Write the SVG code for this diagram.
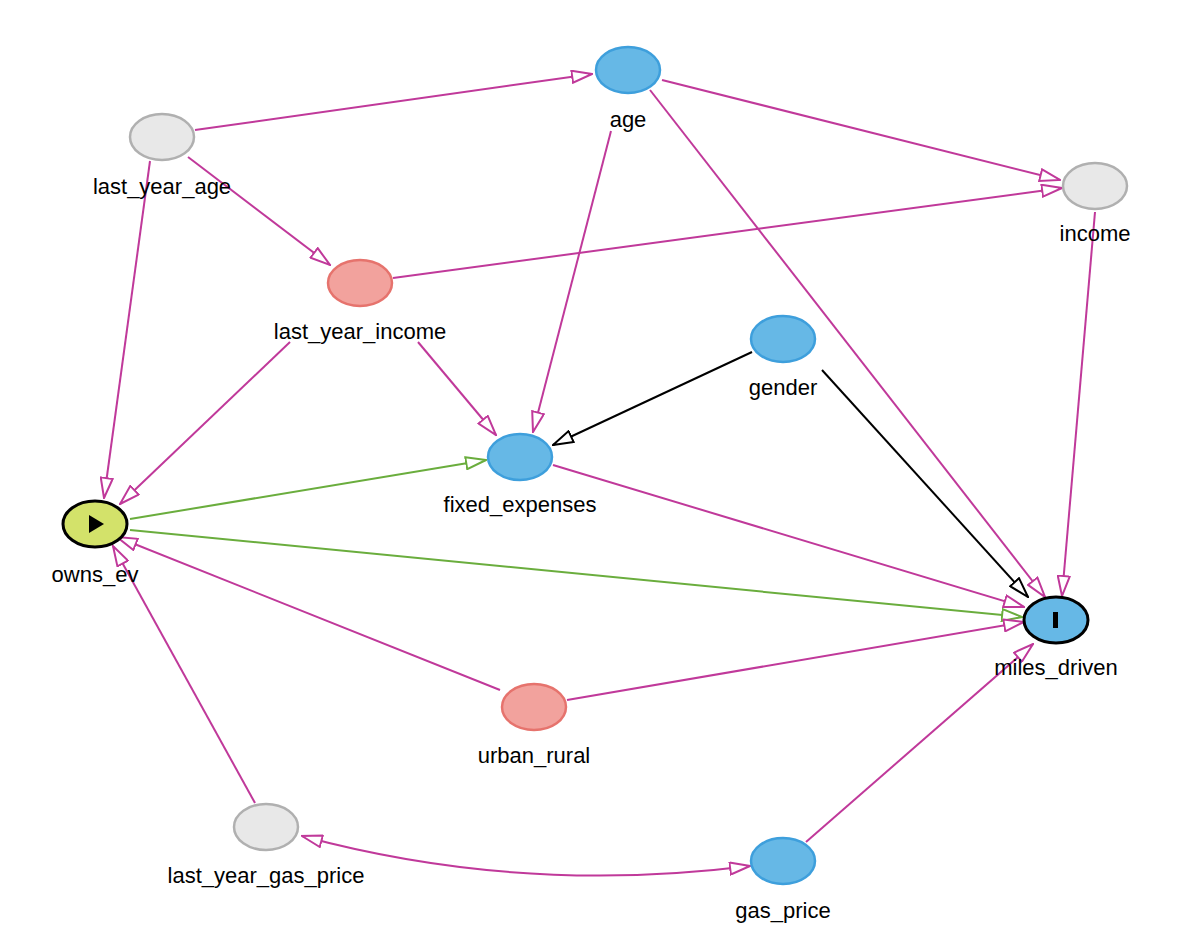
<svg xmlns="http://www.w3.org/2000/svg" width="1184" height="952" viewBox="0 0 1184 952">
<defs>
<style>
.e{fill:none;stroke-width:2}
.p{stroke:#c0399a}.g{stroke:#6aad3d}.k{stroke:#000}
text{font-family:"Liberation Sans",Arial,sans-serif;font-size:22px;text-anchor:middle;fill:#000}
.gr{fill:#e8e8e8;stroke:#b0b0b0;stroke-width:2.5}
.bl{fill:#66b8e6;stroke:#3e9fdc;stroke-width:2.5}
.rd{fill:#f2a29d;stroke:#e6736d;stroke-width:2.5}
</style>
<marker id="mp" viewBox="0 0 22 14" refX="21" refY="7" markerWidth="22" markerHeight="14" markerUnits="userSpaceOnUse" orient="auto-start-reverse"><path d="M1,1 L21,7 L1,13 Z" fill="#fff" stroke="#c0399a" stroke-width="2"/></marker>
<marker id="mg" viewBox="0 0 22 14" refX="21" refY="7" markerWidth="22" markerHeight="14" markerUnits="userSpaceOnUse" orient="auto"><path d="M1,1 L21,7 L1,13 Z" fill="#fff" stroke="#6aad3d" stroke-width="2"/></marker>
<marker id="mk" viewBox="0 0 22 14" refX="21" refY="7" markerWidth="22" markerHeight="14" markerUnits="userSpaceOnUse" orient="auto"><path d="M1,1 L21,7 L1,13 Z" fill="#fff" stroke="#000" stroke-width="2"/></marker>
</defs>
<rect width="1184" height="952" fill="#fff"/>
<g id="connectors">
<line class="e p" x1="195" y1="130" x2="592" y2="74" marker-end="url(#mp)"/>
<line class="e p" x1="662" y1="80" x2="1060" y2="180" marker-end="url(#mp)"/>
<line class="e p" x1="188" y1="157" x2="330" y2="265" marker-end="url(#mp)"/>
<line class="e p" x1="393" y1="278" x2="1062" y2="188" marker-end="url(#mp)"/>
<line class="e p" x1="150" y1="161" x2="104" y2="498" marker-end="url(#mp)"/>
<line class="e p" x1="611" y1="131" x2="533" y2="432" marker-end="url(#mp)"/>
<line class="e p" x1="650" y1="90" x2="1045" y2="597" marker-end="url(#mp)"/>
<line class="e p" x1="1095" y1="212" x2="1062" y2="596" marker-end="url(#mp)"/>
<line class="e p" x1="290" y1="342" x2="120" y2="504" marker-end="url(#mp)"/>
<line class="e p" x1="418" y1="342" x2="496" y2="435" marker-end="url(#mp)"/>
<line class="e k" x1="752" y1="352" x2="553" y2="445" marker-end="url(#mk)"/>
<line class="e k" x1="822" y1="370" x2="1028" y2="597" marker-end="url(#mk)"/>
<line class="e g" x1="130" y1="519" x2="486" y2="460" marker-end="url(#mg)"/>
<line class="e g" x1="130" y1="530" x2="1022" y2="617" marker-end="url(#mg)"/>
<line class="e p" x1="553" y1="465" x2="1024" y2="607" marker-end="url(#mp)"/>
<line class="e p" x1="500" y1="690" x2="117" y2="537" marker-end="url(#mp)"/>
<line class="e p" x1="567" y1="700" x2="1024" y2="622" marker-end="url(#mp)"/>
<line class="e p" x1="255" y1="803" x2="113" y2="546" marker-end="url(#mp)"/>
<line class="e p" x1="806" y1="842" x2="1033" y2="644" marker-end="url(#mp)"/>
<path class="e p" d="M302,836 Q520,895 750,866" marker-start="url(#mp)" marker-end="url(#mp)"/>
</g>
<g id="age"><ellipse class="bl" cx="628" cy="70" rx="32" ry="23"/><text x="628" y="127">age</text></g>
<g id="last_year_age"><ellipse class="gr" cx="162" cy="137" rx="32" ry="23"/><text x="162" y="194">last_year_age</text></g>
<g id="income"><ellipse class="gr" cx="1095" cy="186" rx="32" ry="23"/><text x="1095" y="241">income</text></g>
<g id="last_year_income"><ellipse class="rd" cx="360" cy="283" rx="32" ry="23"/><text x="360" y="339">last_year_income</text></g>
<g id="gender"><ellipse class="bl" cx="783" cy="339" rx="32" ry="23"/><text x="783" y="395">gender</text></g>
<g id="fixed_expenses"><ellipse class="bl" cx="520" cy="457" rx="32" ry="23"/><text x="520" y="512">fixed_expenses</text></g>
<g id="owns_ev"><ellipse cx="95" cy="524" rx="32" ry="23" fill="#d3e26a" stroke="#000" stroke-width="3"/><path d="M89,515 L104,524 L89,533 Z" fill="#000"/><text x="95" y="582">owns_ev</text></g>
<g id="miles_driven"><ellipse cx="1056" cy="620" rx="32" ry="23" fill="#66b8e6" stroke="#000" stroke-width="3"/><rect x="1053" y="612" width="5" height="16" fill="#000"/><text x="1056" y="675">miles_driven</text></g>
<g id="urban_rural"><ellipse class="rd" cx="534" cy="707" rx="32" ry="23"/><text x="534" y="763">urban_rural</text></g>
<g id="last_year_gas_price"><ellipse class="gr" cx="266" cy="827" rx="32" ry="23"/><text x="266" y="883">last_year_gas_price</text></g>
<g id="gas_price"><ellipse class="bl" cx="783" cy="861" rx="32" ry="23"/><text x="783" y="918">gas_price</text></g>
</svg>
